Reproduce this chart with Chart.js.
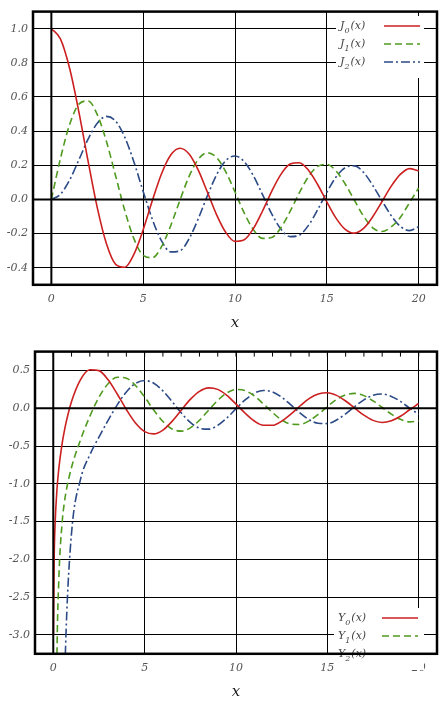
<!DOCTYPE html>
<html><head><meta charset="utf-8">
<script src="https://cdn.jsdelivr.net/npm/chart.js@4"></script>
<style>body{margin:0;background:#fff}canvas{display:block}</style>
</head><body>
<div style="width:446px;height:340px"><canvas id="c1"></canvas></div>
<div style="width:446px;height:369px"><canvas id="c2"></canvas></div>
<script>
const xJ = [0,0.5,1,1.5,2,2.5,3,3.5,4,4.5,5,5.5,6,6.5,7,7.5,8,8.5,9,9.5,10,10.5,11,11.5,12,12.5,13,13.5,14,14.5,15,15.5,16,16.5,17,17.5,18,18.5,19,19.5,20];
const J0 = [1.0,0.9385,0.7652,0.5118,0.2239,-0.0484,-0.2601,-0.3801,-0.3971,-0.3205,-0.1776,-0.0068,0.1506,0.2601,0.3001,0.2663,0.1717,0.0419,-0.0903,-0.1939,-0.2459,-0.2366,-0.1712,-0.0677,0.0477,0.1469,0.2069,0.2150,0.1711,0.0875,-0.0142,-0.1092,-0.1749,-0.1973,-0.1699,-0.1014,-0.0134,0.0762,0.1466,0.1805,0.1670];
const J1 = [0,0.2423,0.4401,0.5579,0.5767,0.4971,0.3391,0.1374,-0.0660,-0.2311,-0.3276,-0.3414,-0.2767,-0.1538,-0.0047,0.1352,0.2346,0.2731,0.2453,0.1613,0.0435,-0.0789,-0.1768,-0.2284,-0.2234,-0.1655,-0.0703,0.0380,0.1334,0.1934,0.2051,0.1672,0.0904,-0.0047,-0.0977,-0.1663,-0.1880,-0.1618,-0.1057,-0.0199,0.0668];
const J2 = [0,0.0306,0.1149,0.2321,0.3528,0.4461,0.4861,0.4586,0.3641,0.2178,0.0466,-0.1173,-0.2429,-0.3074,-0.3014,-0.2303,-0.1130,0.0223,0.1448,0.2279,0.2546,0.2216,0.1390,0.0280,-0.0849,-0.1734,-0.2177,-0.2094,-0.1520,-0.0608,0.0416,0.1308,0.1862,0.1967,0.1584,0.0824,-0.0075,-0.0937,-0.1577,-0.1825,-0.1603];
const xY = [0.01,0.05,0.1,0.2,0.3,0.5,0.6,0.7,1,1.5,2,2.5,3,3.5,4,4.5,5,5.5,6,6.5,7,7.5,8,8.5,9,9.5,10,10.5,11,11.5,12,12.5,13,13.5,14,14.5,15,15.5,16,16.5,17,17.5,18,18.5,19,19.5,20];
const Y0 = [-3.005,-1.981,-1.5342,-1.0811,-0.8073,-0.4445,-0.3085,-0.1907,0.0883,0.3824,0.5104,0.4981,0.3769,0.1890,-0.0169,-0.1947,-0.3085,-0.3395,-0.2882,-0.1732,-0.0260,0.1173,0.2235,0.2702,0.2499,0.1712,0.0557,-0.0660,-0.1688,-0.2252,-0.2252,-0.1700,-0.0782,0.0301,0.1272,0.1880,0.2055,0.1706,0.0958,0.0006,-0.0917,-0.1604,-0.1875,-0.1655,-0.1061,-0.0196,0.0627];
const Y1 = [-63.68,-12.79,-6.459,-3.324,-2.293,-1.4715,-1.2604,-1.1032,-0.7812,-0.4123,-0.1070,0.1459,0.3247,0.4102,0.3979,0.3010,0.1479,-0.0238,-0.1750,-0.2741,-0.3027,-0.2591,-0.1581,-0.0262,0.1043,0.2032,0.2490,0.2337,0.1637,0.0579,-0.0571,-0.1538,-0.2101,-0.2140,-0.1666,-0.0810,0.0211,0.1148,0.1773,0.1966,0.1672,0.0975,0.0101,-0.0784,-0.1466,-0.1798,-0.1655];
const Y2 = [-12732,-512,-127.6,-32.16,-14.48,-5.441,-3.893,-2.961,-1.6507,-0.9322,-0.6174,-0.3813,-0.1604,0.0454,0.2159,0.3285,0.3676,0.3308,0.2299,0.0889,-0.0605,-0.1864,-0.2630,-0.2764,-0.2267,-0.1284,-0.0059,0.1105,0.1986,0.2353,0.2157,0.1454,0.0459,-0.0618,-0.1510,-0.1992,-0.2027,-0.1558,-0.0736,0.0232,0.1114,0.1715,0.1886,0.1570,0.0907,0.0012,-0.0793];
const xTicks = [0,5,10,15,20];
const yTicksJ = [-0.4,-0.2,0.0,0.2,0.4,0.6,0.8,1.0];
const yTicksY = [-3.0,-2.5,-2.0,-1.5,-1.0,-0.5,0.0,0.5];

const colors = ['#cc1f1f','#4f9a1f','#2b4a86'];
const dashes = [[],[7,4],[9,3,2,3]];
const serif = 'DejaVu Serif';

function pts(xs, ys){ return xs.map((x,i)=>({x:x,y:ys[i]})); }

const frame = {
  id:'frame',
  afterDraw(c, a, o){
    const ctx=c.ctx, ca=c.chartArea, sx=c.scales.x, sy=c.scales.y;
    ctx.save();
    const L=o.legend;
    ctx.fillStyle='#fff';
    ctx.fillRect(L.x, L.y, L.w, L.h);
    L.names.forEach((n,i)=>{
      const yy=L.y+10+i*18;
      ctx.fillStyle='#444';
      ctx.font='italic 11px '+serif;
      ctx.textBaseline='middle';
      ctx.fillText(n, L.x+4, yy);
      const w1=ctx.measureText(n).width;
      ctx.font='italic 8px '+serif;
      ctx.fillText(String(i), L.x+4+w1, yy+5);
      const w2=ctx.measureText(String(i)).width;
      ctx.font='italic 11px '+serif;
      ctx.fillText('(x)', L.x+4+w1+w2+1, yy);
      ctx.strokeStyle=colors[i]; ctx.lineWidth=1.6; ctx.setLineDash(dashes[i]);
      ctx.beginPath(); ctx.moveTo(L.x+48, yy); ctx.lineTo(L.x+84, yy); ctx.stroke();
      ctx.setLineDash([]);
    });
    ctx.strokeStyle='#000'; ctx.lineWidth=2;
    ctx.beginPath();
    ctx.moveTo(ca.left, sy.getPixelForValue(0)); ctx.lineTo(ca.right, sy.getPixelForValue(0));
    ctx.moveTo(sx.getPixelForValue(0), ca.top); ctx.lineTo(sx.getPixelForValue(0), ca.bottom);
    ctx.stroke();
    if(o.minor){
      ctx.lineWidth=1;
      ctx.beginPath();
      for(let v=-1; v<=21; v++){
        const px=sx.getPixelForValue(v);
        ctx.moveTo(px, ca.top); ctx.lineTo(px, ca.top+5);
      }
      ctx.stroke();
    }
    ctx.lineWidth=2.5;
    ctx.strokeRect(ca.left, ca.top, ca.right-ca.left, ca.bottom-ca.top);
    ctx.restore();
  }
};

function make(id, datasets, ymin, ymax, yticks, legend, minor, yWidth){
  return new Chart(document.getElementById(id), {
    type:'line',
    data:{datasets: datasets.map((d,i)=>({data:d, borderColor:colors[i], borderDash:dashes[i], borderWidth:1.6, pointRadius:0, fill:false, cubicInterpolationMode:'monotone'}))},
    options:{
      responsive:true, maintainAspectRatio:false, animation:false,
      layout:{padding:{top:8, right:9, left:0, bottom:4}},
      plugins:{legend:{display:false}, tooltip:{enabled:false}, frame:{legend:legend, minor:minor}},
      scales:{
        x:{type:'linear', min:-1, max:21,
          afterBuildTicks(s){ s.ticks = xTicks.map(v=>({value:v})); },
          grid:{color:'#000', lineWidth:1, drawTicks:false},
          border:{display:false},
          ticks:{color:'#555', font:{family:serif, style:'italic', size:11}, padding:8},
          title:{display:true, text:'x', color:'#222', font:{family:serif, style:'italic', size:15}, padding:{top:0}}
        },
        y:{type:'linear', min:ymin, max:ymax,
          afterBuildTicks(s){ s.ticks = yticks.map(v=>({value:v})); },
          afterFit(s){ s.width=yWidth; },
          grid:{color:'#000', lineWidth:1, drawTicks:false},
          border:{display:false},
          ticks:{color:'#555', font:{family:serif, style:'italic', size:11}, padding:5, callback:v=>v.toFixed(1)}
        }
      }
    },
    plugins:[frame]
  });
}

make('c1', [pts(xJ,J0),pts(xJ,J1),pts(xJ,J2)], -0.5, 1.1, yTicksJ,
  {x:336,y:16,w:88,h:62,names:['J','J','J']}, false, 33);
make('c2', [pts(xY,Y0),pts(xY,Y1),pts(xY,Y2)], -3.25, 0.75, yTicksY,
  {x:334,y:268,w:90,h:62,names:['Y','Y','Y']}, true, 35);
</script>
</body></html>
